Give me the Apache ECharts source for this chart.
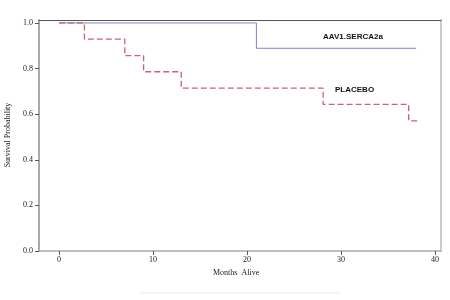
<!DOCTYPE html>
<html>
<head>
<meta charset="utf-8">
<script src="https://cdn.jsdelivr.net/npm/echarts@6/dist/echarts.min.js"></script>
<style>
html, body { margin: 0; padding: 0; background: #fff; }
#chart { width: 450px; height: 300px; }
</style>
</head>
<body>
<div id="chart"></div>
<script>
// Kaplan-Meier steps
var aavMonths = [0, 21, 38];
var aavSurv = [1.0, 0.889, 0.889];
var placeboMonths = [0, 2.7, 7, 9, 13, 28.1, 37.2, 38.2];
var placeboSurv = [1.0, 0.929, 0.857, 0.786, 0.714, 0.643, 0.571, 0.571];
var xTicks = [0, 10, 20, 30, 40];
var yTicks = [0, 0.2, 0.4, 0.6, 0.8, 1.0];

function pairs(xs, ys) {
	var out = [];
	for (var i = 0; i < xs.length; i++) {
		out.push([xs[i], ys[i]]);
	}
	return out;
}

var serif = 'Liberation Serif';
var chart = echarts.init(document.getElementById('chart'));

chart.setOption({
	animation: false,
	grid: { left: 39, right: 9, top: 20, bottom: 49 },
	xAxis: [{
		type: 'value',
		min: -2.13,
		max: 40.64,
		axisLine: { onZero: false, lineStyle: { color: '#aaa', width: 1.5 } },
		axisTick: { show: true, customValues: xTicks, length: 4, inside: false, lineStyle: { color: '#555' } },
		axisLabel: { customValues: xTicks, fontFamily: serif, fontSize: 8, color: '#222', margin: 5 },
		splitLine: { show: false }
	}, {
		type: 'value',
		position: 'top',
		min: -2.13,
		max: 40.64,
		axisLine: { show: true, onZero: false, lineStyle: { color: '#555', width: 1 } },
		axisTick: { show: false },
		axisLabel: { show: false },
		splitLine: { show: false }
	}],
	yAxis: [{
		type: 'value',
		min: 0,
		max: 1.013,
		axisLine: { show: true, onZero: false, lineStyle: { color: '#aaa', width: 2 } },
		axisTick: { show: true, customValues: yTicks, length: 4, lineStyle: { color: '#555' } },
		axisLabel: {
			customValues: yTicks, fontFamily: serif, fontSize: 8, color: '#222', margin: 6,
			formatter: function (v) { return v.toFixed(1); }
		},
		splitLine: { show: false }
	}, {
		type: 'value',
		position: 'right',
		min: 0,
		max: 1.013,
		axisLine: { show: true, onZero: false, lineStyle: { color: '#ccc', width: 2 } },
		axisTick: { show: false },
		axisLabel: { show: false },
		splitLine: { show: false }
	}],
	series: [{
		name: 'AAV1.SERCA2a',
		type: 'line',
		step: 'end',
		symbol: 'none',
		data: pairs(aavMonths, aavSurv),
		lineStyle: { color: '#8080dd', width: 1 },
		z: 2
	}, {
		name: 'PLACEBO',
		type: 'line',
		step: 'end',
		symbol: 'none',
		data: pairs(placeboMonths, placeboSurv),
		lineStyle: { color: '#cc6070', width: 1.3, type: [6, 3] },
		z: 3
	}],
	graphic: [
		{ type: 'text', left: 323, top: 33, style: { text: 'AAV1.SERCA2a', font: 'bold 8px Liberation Sans', fill: '#111' } },
		{ type: 'text', left: 335, top: 86, style: { text: 'PLACEBO', font: 'bold 8px Liberation Sans', fill: '#111' } },
		{ type: 'text', left: 213, top: 269, style: { text: 'Months  Alive', font: '8px Liberation Serif', fill: '#222' } },
		{ type: 'text', x: 8, y: 135, rotation: Math.PI / 2, style: { text: 'Survival Probability', font: '8px Liberation Serif', fill: '#222', align: 'center', verticalAlign: 'middle' } },
		{ type: 'line', shape: { x1: 140, y1: 293, x2: 340, y2: 293 }, style: { stroke: '#e8e8e8', lineWidth: 1 } }
	]
});
</script>
</body>
</html>
